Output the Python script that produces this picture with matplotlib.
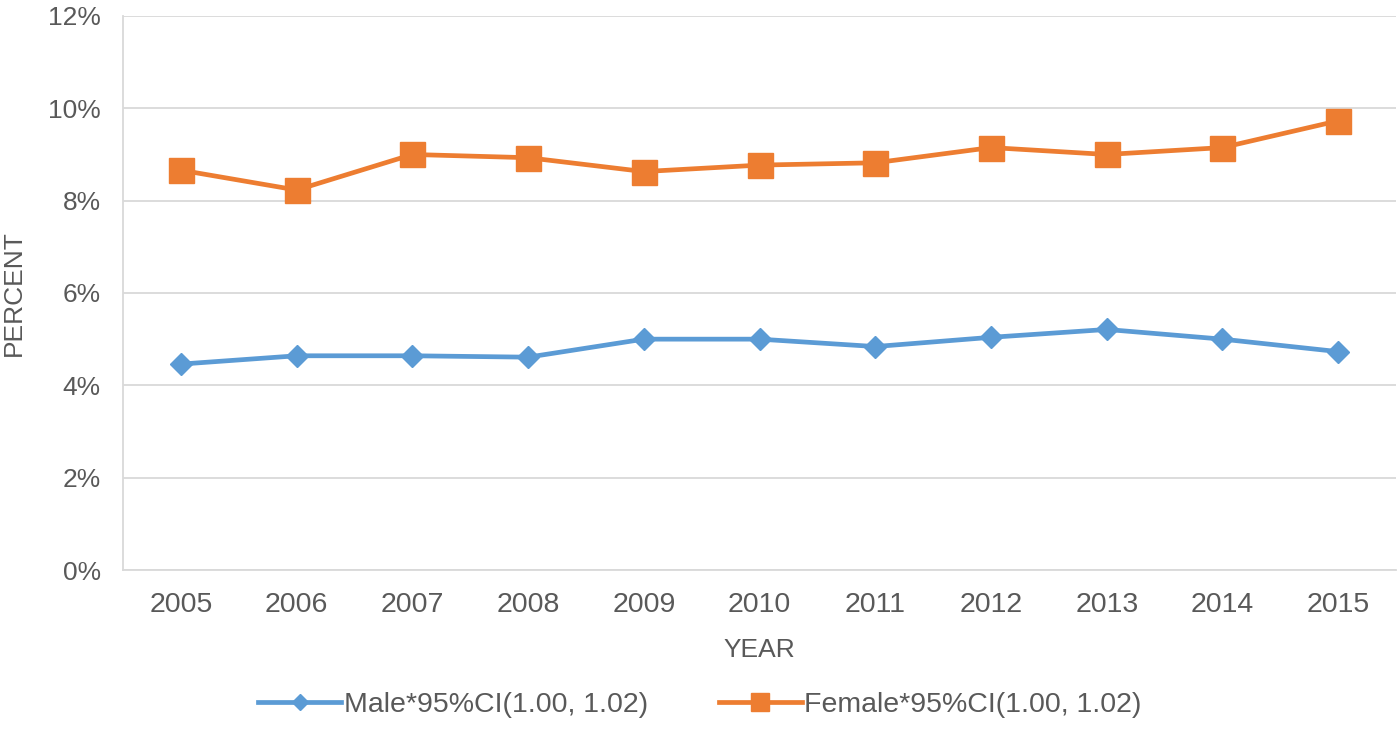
import matplotlib
matplotlib.use("Agg")
import matplotlib.pyplot as plt
from matplotlib.ticker import FuncFormatter, MultipleLocator

years = ["2005", "2006", "2007", "2008", "2009", "2010", "2011", "2012", "2013", "2014", "2015"]
male = [4.46, 4.64, 4.64, 4.61, 5.00, 5.00, 4.84, 5.04, 5.21, 5.00, 4.73]
female = [8.66, 8.23, 9.00, 8.93, 8.63, 8.77, 8.82, 9.15, 9.00, 9.15, 9.73]
male_label = "Male*95%CI(1.00, 1.02)"
female_label = "Female*95%CI(1.00, 1.02)"

plt.rcParams['font.family'] = ['Liberation Sans', 'DejaVu Sans']
text_color = "#595959"
grid_color = "#D9D9D9"

fig = plt.figure(figsize=(14, 7.5), dpi=100)
ax = fig.add_axes([0.0879, 0.24, 0.9093, 0.7387])

x = list(range(len(years)))
ax.plot(x, male, color="#5B9BD5", lw=3.4, marker="D", markersize=11,
        label=male_label, zorder=3)
ax.plot(x, female, color="#ED7D31", lw=3.4, marker="s", markersize=18,
        label=female_label, zorder=3)

ax.set_xlim(-0.5, len(years) - 0.5)
ax.set_ylim(0, 12)
ax.yaxis.set_major_locator(MultipleLocator(2))
ax.yaxis.set_major_formatter(FuncFormatter(lambda v, p: f"{v:.0f}%"))
ax.set_xticks(x)
ax.set_xticklabels(years)

ax.grid(axis="y", color=grid_color, lw=1.3, zorder=0)
ax.set_axisbelow(True)
for s in ["top", "right"]:
    ax.spines[s].set_visible(False)
for s in ["left", "bottom"]:
    ax.spines[s].set_color(grid_color)
    ax.spines[s].set_linewidth(1.3)

ax.tick_params(axis="both", length=0, colors=text_color, labelsize=19)
ax.tick_params(axis="y", pad=16)
ax.tick_params(axis="x", pad=16)
for lbl in ax.get_xticklabels():
    lbl.set_fontsize(20.5)

ax.set_xlabel("YEAR", fontsize=19, color=text_color, labelpad=14)
ax.set_ylabel("PERCENT", fontsize=19, color=text_color)
ax.yaxis.set_label_coords(-0.076, 0.5)

fig.legend(loc="center", bbox_to_anchor=(0.5, 0.06), ncol=2, frameon=False,
           fontsize=20.5, labelcolor=text_color, handlelength=2.9,
           columnspacing=2.5, handletextpad=0.1, markerscale=0.7)

fig.savefig("out.png", dpi=100)
